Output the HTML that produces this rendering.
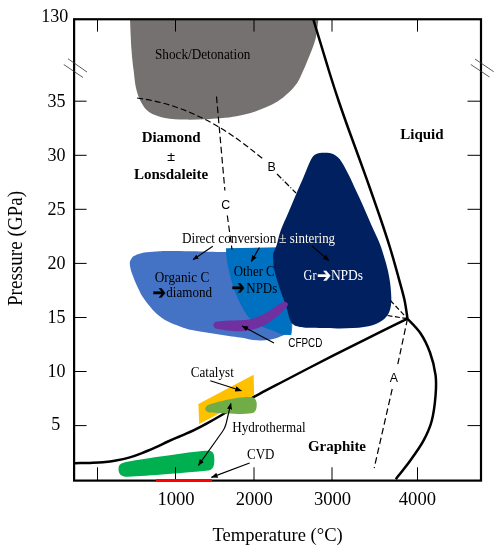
<!DOCTYPE html>
<html><head><meta charset="utf-8"><title>Carbon phase diagram</title>
<style>
html,body{margin:0;padding:0;background:#fff;}
svg{display:block;}
text{font-family:"Liberation Serif",serif;}
.ss{font-family:"Liberation Sans",sans-serif;}
.b{font-weight:bold;}
.w{fill:#fff;}
.ar{font-family:"DejaVu Sans",sans-serif;}
</style></head><body>
<svg width="500" height="550" viewBox="0 0 500 550">
<defs>
<marker id="ah" viewBox="0 0 10 10" refX="9.5" refY="5" markerWidth="6.4" markerHeight="6.4" orient="auto-start-reverse" markerUnits="userSpaceOnUse"><path d="M0,0.9 L10,5 L0,9.1 z" fill="#000"/></marker>
<marker id="as" viewBox="0 0 10 10" refX="9.5" refY="5" markerWidth="5.8" markerHeight="5.8" orient="auto-start-reverse" markerUnits="userSpaceOnUse"><path d="M0,0.9 L10,5 L0,9.1 z" fill="#000"/></marker>
<marker id="al" viewBox="0 0 10 10" refX="9.5" refY="5" markerWidth="6.6" markerHeight="6.6" orient="auto-start-reverse" markerUnits="userSpaceOnUse"><path d="M0,0.9 L10,5 L0,9.1 z" fill="#000"/></marker>
<clipPath id="navyclip"><path d="M324.0,152.8 C326.6,152.7 329.0,152.4 331.6,153.4 C334.2,154.4 336.9,155.6 339.6,159.0 C342.3,162.4 345.3,168.3 348.0,173.6 C350.7,178.8 353.4,184.9 356.0,190.5 C358.6,196.1 361.2,201.6 363.8,207.4 C366.4,213.2 369.0,219.7 371.6,225.6 C374.2,231.5 377.4,237.8 379.5,243.0 C381.6,248.2 382.6,251.8 384.0,256.5 C385.4,261.2 386.9,265.9 388.0,271.0 C389.1,276.1 390.1,281.7 390.6,287.0 C391.1,292.3 391.6,298.4 391.2,303.0 C390.8,307.6 390.0,311.2 388.0,314.5 C386.0,317.8 383.0,320.4 379.0,322.5 C375.0,324.6 370.5,326.0 364.0,327.0 C357.5,328.0 349.0,328.3 340.0,328.4 C331.0,328.5 317.0,328.1 310.0,327.8 C303.0,327.5 300.8,327.0 298.0,326.4 C295.2,325.8 294.7,325.5 293.4,324.4 C292.1,323.3 291.2,323.1 290.0,320.0 C288.8,316.9 287.7,311.3 286.0,306.0 C284.3,300.7 281.5,294.0 279.6,288.0 C277.7,282.0 275.5,275.3 274.4,270.0 C273.3,264.7 273.2,259.0 273.1,256.0 C273.0,253.0 273.2,253.8 273.8,252.0 C274.4,250.2 275.6,248.5 276.7,245.0 C277.8,241.5 278.7,236.2 280.6,230.8 C282.6,225.4 285.8,218.7 288.4,212.6 C291.0,206.5 293.4,200.5 296.0,194.4 C298.6,188.3 301.6,181.6 304.0,176.0 C306.4,170.4 308.6,164.2 310.5,160.6 C312.4,157.0 313.4,155.5 315.7,154.2 C317.9,152.9 321.4,152.9 324.0,152.8 Z"/></clipPath>
</defs>
<rect width="500" height="550" fill="#fff"/>

<!-- gray shock/detonation -->
<path d="M318.5,19.0 C318.3,20.5 317.8,24.7 317.3,28.0 C316.8,31.3 316.4,35.3 315.5,39.0 C314.6,42.7 313.2,46.3 311.8,50.0 C310.4,53.7 308.8,57.4 307.3,61.0 C305.8,64.6 304.4,68.2 302.7,71.8 C301.0,75.4 299.7,79.2 297.3,82.7 C294.9,86.2 291.8,89.7 288.5,92.8 C285.2,95.9 281.2,99.2 277.5,101.6 C273.8,104.0 270.6,105.2 266.5,107.0 C262.4,108.8 257.4,110.8 253.0,112.2 C248.6,113.6 244.7,114.5 240.0,115.4 C235.3,116.3 230.8,117.2 225.0,117.8 C219.2,118.4 211.7,118.9 205.0,119.2 C198.3,119.5 191.7,119.8 185.0,119.6 C178.3,119.4 171.0,119.3 165.0,118.0 C159.0,116.7 153.0,114.7 149.0,112.0 C145.0,109.3 143.2,106.0 141.0,102.0 C138.8,98.0 137.2,93.3 136.0,88.0 C134.8,82.7 134.3,76.3 133.6,70.0 C132.8,63.7 132.1,58.5 131.5,50.0 C130.9,41.5 130.2,24.2 130.0,19.0 Z" fill="#767171"/>
<!-- organic C -->
<path d="M129.8,264.0 C129.6,261.6 130.2,260.9 131.0,259.5 C131.8,258.1 132.2,256.9 134.4,255.8 C136.6,254.7 140.4,253.3 144.0,252.6 C147.6,251.9 152.0,251.7 156.0,251.4 C160.0,251.1 162.0,250.9 168.0,250.9 C174.0,250.9 182.4,251.0 192.0,251.2 C201.6,251.4 214.3,252.0 225.6,252.0 C236.9,252.0 250.1,251.0 260.0,251.0 C269.9,251.0 279.7,245.5 285.0,252.0 C290.3,258.5 290.8,277.0 292.0,290.0 C293.2,303.0 292.7,322.7 292.0,330.0 C291.3,337.3 289.3,333.2 288.0,334.0 C286.7,334.8 286.0,334.3 284.0,335.0 C282.0,335.7 278.7,337.4 276.0,338.2 C273.3,339.0 270.7,339.6 268.0,340.0 C265.3,340.4 263.0,340.5 260.0,340.4 C257.0,340.3 253.3,340.0 250.0,339.5 C246.7,339.0 245.7,338.5 240.0,337.6 C234.3,336.7 224.0,335.3 216.0,334.0 C208.0,332.7 198.0,331.3 192.0,330.0 C186.0,328.7 184.0,327.8 180.0,326.4 C176.0,325.0 172.0,323.8 168.0,321.6 C164.0,319.4 160.0,317.0 156.0,313.2 C152.0,309.4 147.0,303.0 144.0,298.8 C141.0,294.6 140.0,292.2 138.0,288.0 C136.0,283.8 133.4,277.6 132.0,273.6 C130.6,269.6 130.0,266.4 129.8,264.0 Z" fill="#4472c4"/>
<!-- other C -->
<path d="M226,248.2 L280,247.3 L300,300 L294,322 L290.6,324 L291.4,334.2 Q291.4,335 290.6,335 L283,334.8 C280,334.2 278,333 276,331.8 C270,329.6 265,328 260,325.6 C257,324 255,322.6 253,321 C250.5,319 248.5,317 247,315 C244,311 242,307 240,303 C237.5,298 235.5,293.5 234,289 C232.3,284 231,279.5 230,275 C228.8,270 227.6,265 227,261 C226.4,257 226.1,252.5 226,248.2 Z" fill="#0070c0"/>
<!-- navy -->
<path d="M324.0,152.8 C326.6,152.7 329.0,152.4 331.6,153.4 C334.2,154.4 336.9,155.6 339.6,159.0 C342.3,162.4 345.3,168.3 348.0,173.6 C350.7,178.8 353.4,184.9 356.0,190.5 C358.6,196.1 361.2,201.6 363.8,207.4 C366.4,213.2 369.0,219.7 371.6,225.6 C374.2,231.5 377.4,237.8 379.5,243.0 C381.6,248.2 382.6,251.8 384.0,256.5 C385.4,261.2 386.9,265.9 388.0,271.0 C389.1,276.1 390.1,281.7 390.6,287.0 C391.1,292.3 391.6,298.4 391.2,303.0 C390.8,307.6 390.0,311.2 388.0,314.5 C386.0,317.8 383.0,320.4 379.0,322.5 C375.0,324.6 370.5,326.0 364.0,327.0 C357.5,328.0 349.0,328.3 340.0,328.4 C331.0,328.5 317.0,328.1 310.0,327.8 C303.0,327.5 300.8,327.0 298.0,326.4 C295.2,325.8 294.7,325.5 293.4,324.4 C292.1,323.3 291.2,323.1 290.0,320.0 C288.8,316.9 287.7,311.3 286.0,306.0 C284.3,300.7 281.5,294.0 279.6,288.0 C277.7,282.0 275.5,275.3 274.4,270.0 C273.3,264.7 273.2,259.0 273.1,256.0 C273.0,253.0 273.2,253.8 273.8,252.0 C274.4,250.2 275.6,248.5 276.7,245.0 C277.8,241.5 278.7,236.2 280.6,230.8 C282.6,225.4 285.8,218.7 288.4,212.6 C291.0,206.5 293.4,200.5 296.0,194.4 C298.6,188.3 301.6,181.6 304.0,176.0 C306.4,170.4 308.6,164.2 310.5,160.6 C312.4,157.0 313.4,155.5 315.7,154.2 C317.9,152.9 321.4,152.9 324.0,152.8 Z" fill="#002060"/>
<!-- purple -->
<path d="M213.4,325.0 C213.4,324.2 214.0,323.2 214.6,322.6 C215.2,322.0 215.3,321.9 217.0,321.6 C218.7,321.3 222.0,320.9 225.0,320.7 C228.0,320.5 231.7,320.5 235.0,320.4 C238.3,320.3 241.7,320.4 245.0,320.0 C248.3,319.6 251.7,319.1 255.0,318.0 C258.3,316.9 261.7,315.4 265.0,313.6 C268.3,311.8 272.3,308.8 275.0,307.0 C277.7,305.2 279.3,303.9 281.0,303.0 C282.7,302.1 283.9,301.9 285.0,301.9 C286.1,301.9 286.9,302.5 287.4,303.0 C287.9,303.5 288.0,304.2 287.8,305.0 C287.6,305.8 287.1,306.7 286.0,308.0 C284.9,309.3 282.8,311.3 281.0,313.0 C279.2,314.7 277.7,316.0 275.0,318.0 C272.3,320.0 268.3,323.2 265.0,325.0 C261.7,326.8 258.3,328.0 255.0,329.0 C251.7,330.0 248.3,330.6 245.0,331.0 C241.7,331.4 238.3,331.3 235.0,331.2 C231.7,331.1 228.0,330.6 225.0,330.2 C222.0,329.8 218.8,329.3 217.0,328.8 C215.2,328.3 215.0,328.0 214.4,327.4 C213.8,326.8 213.4,325.8 213.4,325.0 Z" fill="#7030a0"/>
<!-- dark green -->
<path d="M118.5,469 C118.5,464.5 121,463 126,462 C138,459.5 152,457.5 168,455.4 C182,453.5 196,451.4 206,450.8 C212,450.5 214,452 214.3,458 C214.6,465 213.5,470 208,470.6 C196,472 182,473 168,474 C152,475.2 138,476.4 128,476.8 C121,477 118.5,474 118.5,469 Z" fill="#00b050"/>

<!-- axes frame -->
<rect x="74.1" y="19.25" width="406.9" height="461.35" fill="none" stroke="#000" stroke-width="2.2"/>
<g stroke="#000" stroke-width="1">
<path d="M97.5,19V31.6 M175.5,19V31.6 M254,19V31.6 M332,19V31.6 M417.5,19V31.6"/>
<path d="M97.5,467.3V480 M175.5,467.3V480 M254,467.3V480 M332,467.3V480 M417.5,467.3V480"/>
<path d="M75,101.2H86.6 M75,155.3H86.6 M75,209.3H86.6 M75,263.4H86.6 M75,317.5H86.6 M75,371.5H86.6 M75,425.6H86.6"/>
<path d="M467.5,101.2H481 M467.5,155.3H481 M467.5,209.3H481 M467.5,263.4H481 M467.5,317.5H481 M467.5,371.5H481 M467.5,425.6H481"/>
</g>
<g stroke="#333" stroke-width="0.8">
<path d="M63.75,64.5L83,77.5 M68,58.75L87,72"/>
<path d="M470.75,64.5L489.5,77 M475,59L493.75,71.75"/>
</g>
<!-- red CVD -->
<path d="M156,480.4H212" stroke="#ff0000" stroke-width="2.6"/>

<!-- phase lines -->
<g fill="none" stroke="#000" stroke-width="2.5" stroke-linejoin="round">
<path d="M75.0,463.2 C77.5,463.1 85.3,463.1 90.0,462.9 C94.7,462.7 98.7,462.6 103.0,462.2 C107.3,461.8 111.7,461.3 116.0,460.5 C120.3,459.7 124.7,458.8 129.0,457.6 C133.3,456.4 137.7,454.8 142.0,453.1 C146.3,451.5 150.7,449.6 155.0,447.7 C159.3,445.8 163.7,443.5 168.0,441.5 C172.3,439.5 176.7,437.7 181.0,435.8 C185.3,433.9 189.7,432.2 194.0,430.1 C198.3,428.0 202.7,425.8 207.0,423.4 C211.3,421.0 215.2,418.8 220.0,416.0 C224.8,413.2 229.3,410.3 236.0,406.6 C242.7,402.9 252.0,397.9 260.0,393.6 C268.0,389.3 276.0,385.2 284.0,381.0 C292.0,376.8 300.0,372.6 308.0,368.5 C316.0,364.4 324.0,360.3 332.0,356.2 C340.0,352.1 348.0,348.1 356.0,344.1 C364.0,340.1 371.4,336.4 380.0,332.2 C388.6,328.0 402.9,320.9 407.5,318.7"/>
<path d="M313.2,19.0 C314.5,23.2 318.1,35.0 320.8,44.0 C323.5,53.0 326.6,63.3 329.6,73.0 C332.6,82.7 335.7,92.3 339.0,102.0 C342.3,111.7 345.7,121.3 349.2,131.0 C352.7,140.7 356.3,150.3 359.8,160.0 C363.3,169.7 366.8,179.3 370.2,189.0 C373.6,198.7 377.0,208.3 380.3,218.0 C383.6,227.7 386.8,237.3 389.8,247.0 C392.8,256.7 395.8,267.6 398.2,276.3 C400.6,285.1 402.8,292.4 404.4,299.5 C405.9,306.6 407.0,315.5 407.5,318.7"/>
<path d="M407.5,318.7 C409.6,321.1 416.6,327.4 420.3,333.0 C424.1,338.6 427.4,345.4 430.0,352.5 C432.6,359.6 434.7,368.3 435.6,375.4 C436.5,382.5 436.2,387.4 435.6,395.0 C435.0,402.6 433.7,413.4 431.7,421.0 C429.7,428.6 427.0,434.1 423.5,440.7 C420.0,447.2 415.1,453.9 410.5,460.3 C405.9,466.7 398.2,476.1 395.8,479.3"/>
</g>
<!-- yellow -->
<path d="M198.4,404 L253.6,374.8 L254.2,395 L199.2,424 Z" fill="#ffc000"/>
<!-- light green -->
<path d="M205.2,409.0 C205.1,408.1 205.7,407.0 206.5,406.2 C207.3,405.4 207.4,405.1 210.0,404.2 C212.6,403.3 217.3,402.1 222.0,401.0 C226.7,399.9 233.2,398.5 238.0,397.8 C242.8,397.1 248.0,396.9 250.8,397.0 C253.6,397.1 253.6,397.7 254.6,398.6 C255.6,399.5 256.3,401.0 256.6,402.6 C256.9,404.2 256.7,406.7 256.4,408.2 C256.1,409.7 255.6,410.8 254.8,411.6 C254.0,412.4 254.4,412.8 251.6,413.2 C248.8,413.6 242.9,413.9 238.0,413.9 C233.1,413.9 226.5,413.4 222.0,413.2 C217.5,413.0 213.3,412.9 210.8,412.6 C208.3,412.3 207.9,412.1 207.0,411.5 C206.1,410.9 205.3,409.9 205.2,409.0 Z" fill="#70ad47"/>
<!-- dashed lines -->
<g fill="none" stroke="#000" stroke-width="1.2">
<path d="M137,98 C160,101 182,108 200,117 C220,126 240,140 263,159" stroke-dasharray="6 3"/>
<path d="M277,174 L296,193" stroke-dasharray="6 2 1 2"/>
<path d="M216.5,96.5 L224.9,190.5" stroke-dasharray="6.6 3.5"/>
<path d="M227.3,215.5 L232,249.5" stroke-dasharray="6.6 3.5"/>
<path d="M407.5,318.7 L397.4,366" stroke-dasharray="6.5 3.5"/>
<path d="M392.2,389 L374.2,468" stroke-dasharray="6.5 3.5"/>
<path d="M390.4,300.5 L407.5,318.7" stroke-dasharray="5 2.5"/>
<path d="M387.5,315.5 L407.5,318.7" stroke-dasharray="5 2.5"/>
</g>

<!-- arrows -->
<g stroke="#000" stroke-width="1.15" fill="none">
<path d="M210.3,380.7 L241.5,390.8" marker-end="url(#al)"/>
<path d="M230.9,403.3 L226,424 Q225,428 222.5,431.5 L198.4,465.4" marker-end="url(#ah)" marker-start="url(#ah)"/>
<path d="M249.6,463 L211.4,477.4" marker-end="url(#al)"/>
<path d="M212.8,246.3 L193,259.7" marker-end="url(#as)"/>
<path d="M259.4,247.5 L251.4,261.4" marker-end="url(#ah)"/>
<path d="M312,246 L329,260.7" marker-end="url(#ah)"/>
<path d="M274,343 L242,326" marker-end="url(#ah)"/>
</g>

<!-- heavy arrows -->
<text class="ar" transform="translate(152.44,298.51) scale(0.809,0.970)" font-size="20" fill="#000" stroke="#000" stroke-width="0.326">➔</text>
<text class="ar" transform="translate(231.54,293.91) scale(0.809,0.970)" font-size="20" fill="#000" stroke="#000" stroke-width="0.326">➔</text>
<text class="ar" transform="translate(316.91,281.66) scale(0.841,1.009)" font-size="20" fill="#fff" stroke="#fff" stroke-width="0.326">➔</text>

<!-- axis labels -->
<g font-size="18" text-anchor="end">
<text x="68.3" y="21.5">130</text>
<text x="65.4" y="106.6">35</text>
<text x="65.4" y="160.6">30</text>
<text x="65.4" y="214.6">25</text>
<text x="65.4" y="268.7">20</text>
<text x="65.4" y="322.5">15</text>
<text x="65.4" y="376.6">10</text>
<text x="60.3" y="430.2">5</text>
</g>
<g font-size="18">
<text x="157.4" y="504.5" textLength="37.2" lengthAdjust="spacingAndGlyphs">1000</text>
<text x="235.7" y="504.5" textLength="37.2" lengthAdjust="spacingAndGlyphs">2000</text>
<text x="313.9" y="504.5" textLength="37.2" lengthAdjust="spacingAndGlyphs">3000</text>
<text x="398.8" y="504.5" textLength="37.2" lengthAdjust="spacingAndGlyphs">4000</text>
</g>
<text x="212.4" y="541" font-size="18.2" textLength="130.4" lengthAdjust="spacingAndGlyphs">Temperature (°C)</text>
<text transform="translate(22.3,306) rotate(-90) scale(1,1.05)" font-size="19" textLength="115">Pressure (GPa)</text>

<!-- region labels -->
<text x="155" y="58.7" font-size="13.8" textLength="95.4" lengthAdjust="spacingAndGlyphs">Shock/Detonation</text>
<text class="b" x="141.7" y="142.4" font-size="15" textLength="58.8">Diamond</text>
<text class="b" x="171.2" y="161" font-size="15" text-anchor="middle">±</text>
<text class="b" x="134" y="178.6" font-size="15" textLength="74.2">Lonsdaleite</text>
<text class="b" x="400.3" y="139.3" font-size="15" textLength="43.2">Liquid</text>
<text class="b" x="308" y="451" font-size="15" textLength="58">Graphite</text>
<g id="dcs" font-size="13.8"><text x="182" y="242.8" textLength="94.3" lengthAdjust="spacingAndGlyphs">Direct conversion</text><text x="282.9" y="242.7" text-anchor="middle">±</text><text x="289.8" y="242.8" textLength="45.3" lengthAdjust="spacingAndGlyphs">sintering</text></g>
<g clip-path="url(#navyclip)"><use href="#dcs" fill="#fff"/></g>
<text x="154.8" y="281.8" font-size="13.8" textLength="54.4" lengthAdjust="spacingAndGlyphs">Organic C</text>
<text x="166.3" y="297.3" font-size="13.8" textLength="45.8" lengthAdjust="spacingAndGlyphs">diamond</text>
<text x="233.7" y="276.4" font-size="13.8" textLength="41" lengthAdjust="spacingAndGlyphs">Other C</text>
<text x="246.3" y="292.5" font-size="13.8" textLength="31" lengthAdjust="spacingAndGlyphs">NPDs</text>
<text class="w" x="303.6" y="280.3" font-size="13.8" textLength="12.9" lengthAdjust="spacingAndGlyphs">Gr</text>
<text class="w" x="330.9" y="280.3" font-size="13.8" textLength="32.2" lengthAdjust="spacingAndGlyphs">NPDs</text>
<text x="190.8" y="376.7" font-size="13.7" textLength="43" lengthAdjust="spacingAndGlyphs">Catalyst</text>
<text x="232.3" y="431.7" font-size="13.8" textLength="73.4" lengthAdjust="spacingAndGlyphs">Hydrothermal</text>
<text x="247.1" y="459.4" font-size="13.7" textLength="27.4" lengthAdjust="spacingAndGlyphs">CVD</text>
<text class="ss" x="288.3" y="347" font-size="12" textLength="34" lengthAdjust="spacingAndGlyphs">CFPCD</text>
<text class="ss" x="393.9" y="382.4" font-size="12.3" text-anchor="middle">A</text>
<text class="ss" x="271.6" y="170.8" font-size="12.4" text-anchor="middle">B</text>
<text class="ss" x="225.8" y="208.6" font-size="12.4" text-anchor="middle">C</text>
</svg>
</body></html>
